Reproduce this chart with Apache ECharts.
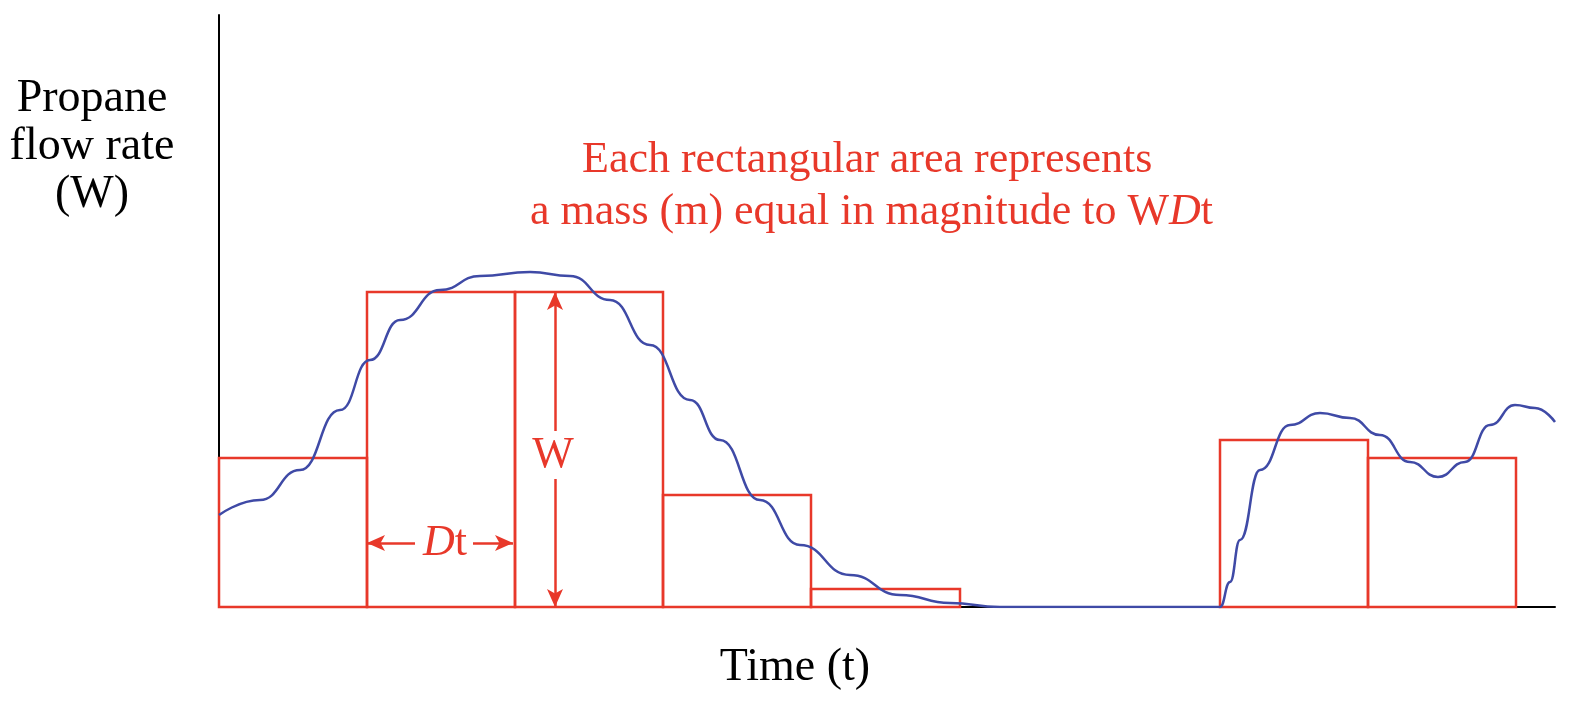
<!DOCTYPE html>
<html><head><meta charset="utf-8">
<script src="https://cdn.jsdelivr.net/npm/echarts@6/dist/echarts.min.js"></script>
<style>html,body{margin:0;padding:0;background:#fff}#c{width:1588px;height:713px}</style>
</head><body><div id="c"></div>
<script>
// x in time units (pixel-scale), y in flow units
const curve = [[0,92],[41,107],[81,137],[121,197],[151,247],[181,287],[221,317],[261,331],[311,335],[351,331],[391,307],[431,262],[471,207],[501,167],[541,107],[581,62],[631,32],[681,12],[731,4],[781,0],[1001,0],[1011,25],[1021,67],[1041,137],[1071,182],[1101,194],[1131,189],[1161,172],[1191,145],[1219,130],[1246,145],[1271,182],[1296,202],[1316,199],[1336,185]];
const rects = [[0,148,149],[148,296,315],[296,444,315],[444,592,112],[592,741,18],[1001,1149,167],[1149,1297,149]];
const wArrow = [336, 0, 315];
const dtArrowLeft = [196, 148, 64];
const dtArrowRight = [254, 294, 64];
const red = '#e8382a', blue = '#3f4aa6';
const font = '"Liberation Serif","Times New Roman",serif';
const chart = echarts.init(document.getElementById('c'));
chart.setOption({
  animation:false,
  grid:{left:219,right:33,top:15,bottom:106},
  xAxis:{type:'value',min:0,max:1336,axisLine:{show:true,lineStyle:{color:'#000',width:2}},axisTick:{show:false},axisLabel:{show:false},splitLine:{show:false}},
  yAxis:{type:'value',min:0,max:592,axisLine:{show:true,lineStyle:{color:'#000',width:2}},axisTick:{show:false},axisLabel:{show:false},splitLine:{show:false}},
  series:[
    {type:'custom',data:rects,z:2,renderItem:(p,api)=>{
      const a=api.coord([api.value(0),api.value(2)]), b=api.coord([api.value(1),0]);
      return {type:'rect',shape:{x:a[0],y:a[1],width:b[0]-a[0],height:b[1]-a[1]},style:{fill:'none',stroke:red,lineWidth:2.5}};
    }},
    {type:'line',data:curve,smooth:0.5,smoothMonotone:'x',symbol:'none',z:3,lineStyle:{color:blue,width:2.5},
     markLine:{silent:true,symbolSize:[12,18],lineStyle:{color:red,width:2.5,type:'solid'},label:{show:false},data:[
       [{coord:[wArrow[0],wArrow[1]],symbol:'arrow'},{coord:[wArrow[0],wArrow[2]],symbol:'arrow'}],
       [{coord:[dtArrowLeft[0],dtArrowLeft[2]],symbol:'none'},{coord:[dtArrowLeft[1],dtArrowLeft[2]],symbol:'arrow'}],
       [{coord:[dtArrowRight[0],dtArrowRight[2]],symbol:'none'},{coord:[dtArrowRight[1],dtArrowRight[2]],symbol:'arrow'}]
     ]}}
  ],
  graphic:[
    {type:'text',x:582,y:160,z:10,style:{text:'Each rectangular area represents',font:'44px '+font,fill:red,verticalAlign:'middle'}},
    {type:'text',x:530,y:212,z:10,style:{rich:{n:{font:'44px '+font,fill:red},i:{font:'italic 44px '+font,fill:red}},text:'{n|a mass (m) equal in magnitude to W}{i|D}{n|t}',verticalAlign:'middle'}},
    {type:'text',x:553,y:455,z:10,style:{text:'W',font:'44px '+font,fill:red,align:'center',verticalAlign:'middle',backgroundColor:'#fff',padding:[2,0]}},
    {type:'text',x:445,y:543,z:10,style:{rich:{n:{font:'44px '+font,fill:red},i:{font:'italic 44px '+font,fill:red}},text:'{i|D}{n|t}',align:'center',verticalAlign:'middle'}},
    {type:'text',x:795,y:668,style:{text:'Time (t)',font:'46px '+font,fill:'#000',align:'center',verticalAlign:'middle'}},
    {type:'text',x:92,y:147,style:{text:'Propane\nflow rate\n(W)',font:'46px '+font,fill:'#000',align:'center',verticalAlign:'middle',lineHeight:48}}
  ]
});
</script></body></html>
